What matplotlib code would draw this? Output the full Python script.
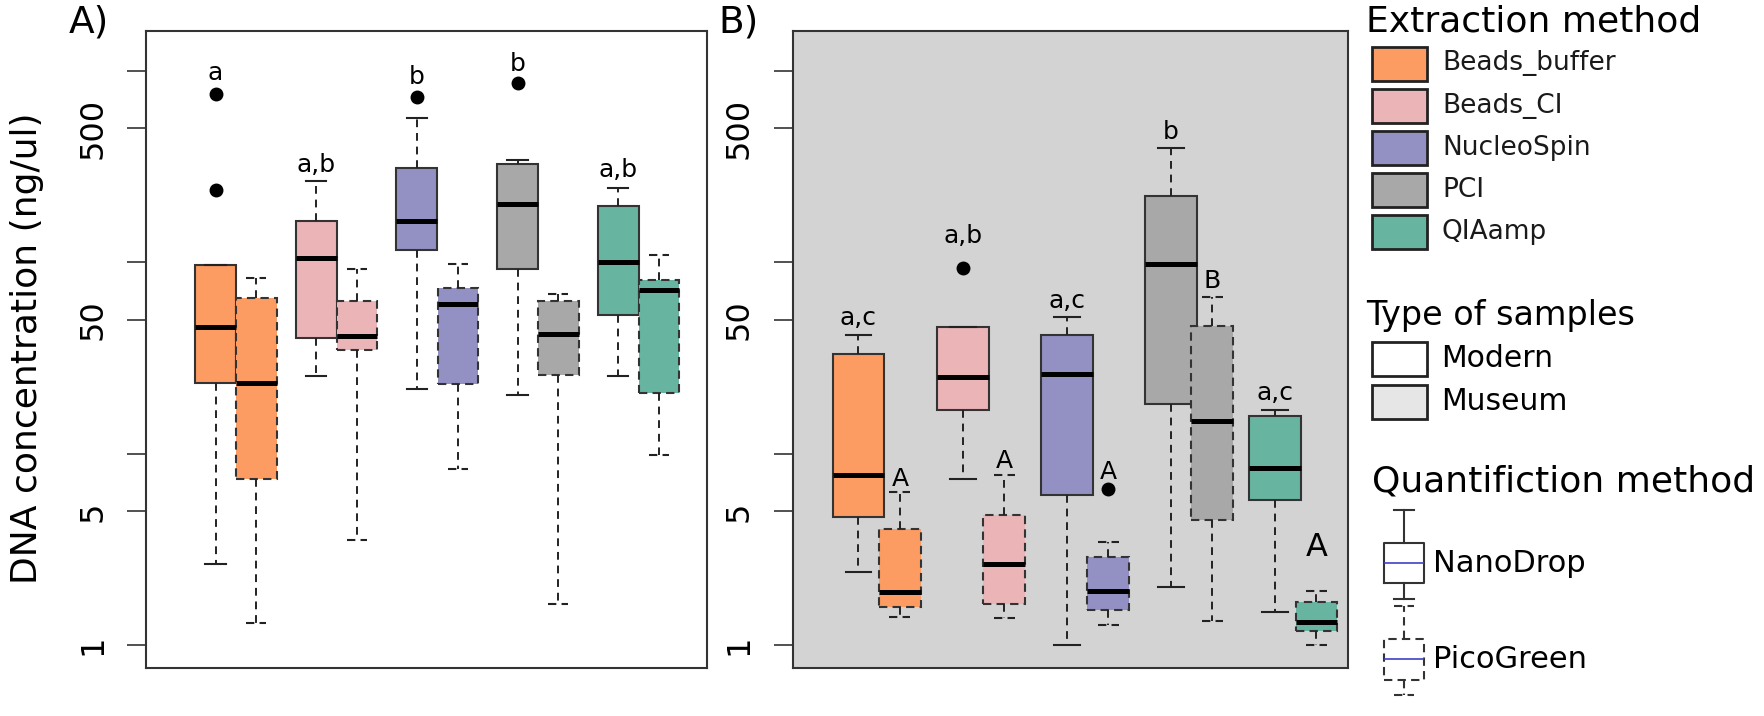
import numpy as np
import matplotlib.pyplot as plt
from matplotlib.patches import Rectangle
from matplotlib.ticker import FixedLocator, NullLocator

methods = ['Beads_buffer', 'Beads_CI', 'NucleoSpin', 'PCI', 'QIAamp']
colors = ['#FC9C62', '#EBB4B7', '#9391C4', '#A8A8A8', '#67B4A1']

# A) modern samples, NanoDrop
a_nano_q1 = [23.3, 40.3, 116, 91.8, 52.7]
a_nano_med = [45.9, 104.7, 165, 201, 100.8]
a_nano_q3 = [97, 165, 311, 325, 196]
a_nano_lo = [2.66, 25.5, 21.9, 20.2, 25.5]
a_nano_hi = [97, 265, 568, 343, 245]
a_nano_out = [[752, 239], [], [732], [858], []]
# A) modern samples, PicoGreen
a_pico_q1 = [7.42, 34.7, 23.0, 25.7, 20.8]
a_pico_med = [23.5, 41.4, 60.8, 42.1, 71.7]
a_pico_q3 = [65.3, 62.5, 73.7, 62.5, 80.4]
a_pico_lo = [1.30, 3.54, 8.28, 1.65, 9.82]
a_pico_hi = [83.2, 91.8, 98, 67.9, 109.4]
a_pico_out = [[], [], [], [], []]

# B) museum samples, NanoDrop
b_nano_q1 = [4.68, 16.9, 6.12, 18.2, 5.70]
b_nano_med = [7.76, 25.1, 26.2, 98, 8.42]
b_nano_q3 = [33.2, 45.7, 41.9, 223, 15.8]
b_nano_lo = [2.41, 7.42, 1.0, 2.02, 1.49]
b_nano_hi = [41.9, 45.7, 51.6, 393, 16.9]
b_nano_out = [[], [93.8], [], [], []]
# B) museum samples, PicoGreen
b_pico_q1 = [1.58, 1.65, 1.52, 4.53, 1.19]
b_pico_med = [1.89, 2.66, 1.93, 14.8, 1.32]
b_pico_q3 = [4.06, 4.78, 2.90, 46.7, 1.69]
b_pico_lo = [1.41, 1.38, 1.28, 1.34, 1.0]
b_pico_hi = [6.33, 7.71, 3.44, 66, 1.91]
b_pico_out = [[], [], [6.54], [], []]

# significance letters
a_letters = ['a', 'a,b', 'b', 'b', 'a,b']
a_letter_y = [973, 321, 931, 1086, 302]
b_nano_letters = ['a,c', 'a,b', 'a,c', 'b', 'a,c']
b_nano_letter_y = [51.0, 137, 62.5, 477, 20.8]
b_pico_letters = ['A', 'A', 'A', 'B', 'A']
b_pico_letter_y = [7.34, 9.15, 8.06, 80, 3.22]

yticks = [1, 5, 10, 50, 100, 500, 1000]
yticklabels = ['1', '5', '', '50', '', '500', '']

W, H = 1765, 716
fig = plt.figure(figsize=(W / 100, H / 100), dpi=100)

dash = (0, (4, 2.5))
wdash = (0, (4, 3))


def stats(q1, med, q3, lo, hi, out):
    return [dict(q1=a, med=m, q3=c, whislo=l, whishi=h, fliers=np.array(o))
            for a, m, c, l, h, o in zip(q1, med, q3, lo, hi, out)]


def draw(ax, st, pos, width, ls):
    r = ax.bxp(st, positions=pos, widths=width, patch_artist=True,
               showfliers=True, manage_ticks=False,
               boxprops=dict(edgecolor='#333333', linewidth=1.5, linestyle=ls),
               whiskerprops=dict(color='#222222', linewidth=1.4, linestyle=wdash),
               capprops=dict(color='#222222', linewidth=1.5, linestyle=ls),
               medianprops=dict(color='black', linewidth=3.6, solid_capstyle='butt'),
               flierprops=dict(marker='o', markerfacecolor='black',
                               markeredgecolor='black', markersize=9))
    for b, c in zip(r['boxes'], colors):
        b.set_facecolor(c)


def style(ax, xlim, bg):
    ax.set_facecolor(bg)
    ax.set_yscale('log')
    ax.set_ylim(0.76, 1613)
    ax.set_xlim(*xlim)
    ax.yaxis.set_major_locator(FixedLocator(yticks))
    ax.yaxis.set_minor_locator(NullLocator())
    ax.set_yticklabels(yticklabels, rotation=90, va='center', fontsize=23)
    ax.tick_params(axis='y', length=13.5, width=1.2, color='#333333', pad=14)
    ax.set_xticks([])
    for s in ax.spines.values():
        s.set_color('#333333')
        s.set_linewidth(1.5)


# panel A
axA = fig.add_axes([146.4 / W, 1 - 668 / H, (707 - 146.4) / W, (668 - 31) / H])
gA = 2.46
nposA = [i * gA for i in range(5)]
pposA = [p + 1 for p in nposA]
draw(axA, stats(a_nano_q1, a_nano_med, a_nano_q3, a_nano_lo, a_nano_hi, a_nano_out), nposA, 1.0, '-')
draw(axA, stats(a_pico_q1, a_pico_med, a_pico_q3, a_pico_lo, a_pico_hi, a_pico_out), pposA, 0.98, dash)
style(axA, (-1.69, 12.01), 'white')
for x, t, y in zip(nposA, a_letters, a_letter_y):
    axA.text(x, y, t, ha='center', va='center', fontsize=18)

# panel B
axB = fig.add_axes([793 / W, 1 - 668 / H, (1348 - 793) / W, (668 - 31) / H])
gB = 2.51
nposB = [i * gB for i in range(5)]
pposB = [p + 1 for p in nposB]
draw(axB, stats(b_nano_q1, b_nano_med, b_nano_q3, b_nano_lo, b_nano_hi, b_nano_out), nposB, 1.25, '-')
draw(axB, stats(b_pico_q1, b_pico_med, b_pico_q3, b_pico_lo, b_pico_hi, b_pico_out), pposB, 1.01, dash)
style(axB, (-1.578, 11.8), '#D3D3D3')
for x, t, y in zip(nposB, b_nano_letters, b_nano_letter_y):
    axB.text(x, y, t, ha='center', va='center', fontsize=18)
for i, (x, t, y) in enumerate(zip(pposB, b_pico_letters, b_pico_letter_y)):
    axB.text(x, y, t, ha='center', va='center', fontsize=23 if i == 4 else 18)

fig.text(89 / W, 1 - 23 / H, 'A)', fontsize=27, ha='center', va='center')
fig.text(739 / W, 1 - 23 / H, 'B)', fontsize=27, ha='center', va='center')
fig.text(27 / W, 0.514, 'DNA concentration (ng/ul)', rotation=90,
         fontsize=26, ha='center', va='center')

# legend, drawn in pixel coordinates
lg = fig.add_axes([0, 0, 1, 1], facecolor='none')
lg.set_xlim(0, W)
lg.set_ylim(H, 0)
lg.axis('off')

lg.text(1366, 22, 'Extraction method', fontsize=26, va='center', ha='left')
for i, (m, c) in enumerate(zip(methods, colors)):
    yc = 63.5 + 42.15 * i
    lg.add_patch(Rectangle((1372.5, yc - 17), 55, 34, facecolor=c,
                           edgecolor='#222222', linewidth=2))
    lg.text(1442, yc, m, fontsize=19, va='center', ha='left', color='#1a1a1a')

lg.text(1366, 316, 'Type of samples', fontsize=24, va='center', ha='left')
for yc, fc, t in [(358.7, 'white', 'Modern'), (402, '#E6E6E6', 'Museum')]:
    lg.add_patch(Rectangle((1372.5, yc - 17), 55, 34, facecolor=fc,
                           edgecolor='#222222', linewidth=2))
    lg.text(1441, yc, t, fontsize=21.5, va='center', ha='left')

lg.text(1372, 482, 'Quantifiction method', fontsize=26, va='center', ha='left')
glyph = [dict(whishi=510, q3=543, med=563, q1=583, whislo=599, fliers=[]),
         dict(whishi=606, q3=639, med=659, q1=680, whislo=695, fliers=[])]
for st, ls in [(glyph[0], '-'), (glyph[1], dash)]:
    lg.bxp([st], positions=[1404], widths=40, showfliers=False, manage_ticks=False,
           boxprops=dict(color='#333333', linewidth=1.5, linestyle=ls),
           whiskerprops=dict(color='#333333', linewidth=1.5, linestyle=ls),
           capprops=dict(color='#333333', linewidth=1.5, linestyle=ls),
           medianprops=dict(color='#4040C8', linewidth=1.2))
lg.set_xlim(0, W)
lg.set_ylim(H, 0)
lg.text(1433, 563, 'NanoDrop', fontsize=22, va='center', ha='left')
lg.text(1433, 659, 'PicoGreen', fontsize=22, va='center', ha='left')

fig.savefig('out.png', dpi=100)
